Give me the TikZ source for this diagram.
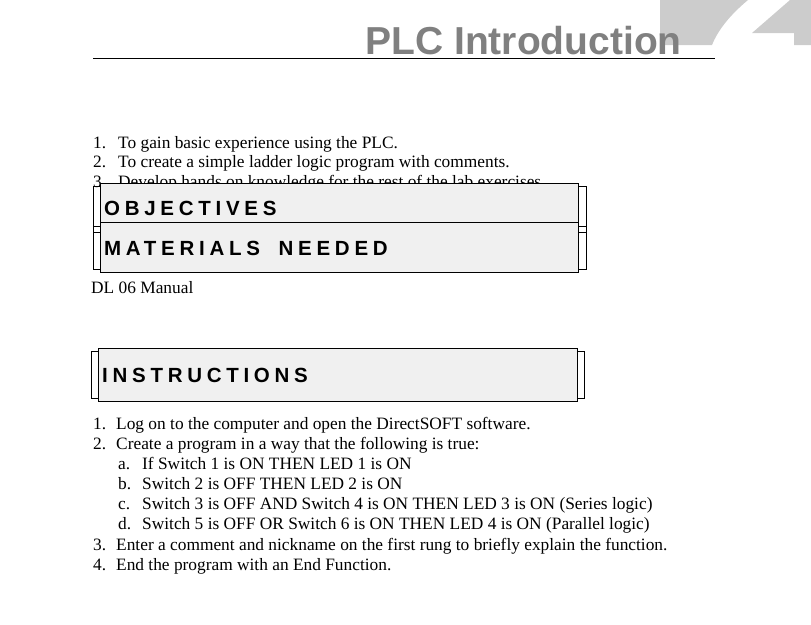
\documentclass[tikz,border=0pt]{standalone}
\usepackage{fontspec}
\setmainfont{Liberation Serif}
\newfontfamily\hsans[LetterSpace=23,WordSpace=1.8]{Liberation Sans Bold}
\newfontfamily\tsans{Liberation Sans Bold}
\definecolor{boxfill}{HTML}{F0F0F0}
\definecolor{titlegray}{HTML}{808080}
\definecolor{biggray}{HTML}{CCCCCC}
\begin{document}
\begin{tikzpicture}[x=1pt,y=-1pt,
  body/.style={anchor=base west,inner sep=0,font=\fontsize{17.35}{19}\selectfont},
  head/.style={anchor=base west,inner sep=0,font=\hsans\fontsize{20.5}{22}\selectfont},
  hbox/.style={draw=black,fill=boxfill,line width=0.8pt},
  frame/.style={draw=black,line width=0.5pt}]
\useasboundingbox (0,0) rectangle (811,624);
% big gray chapter number
\fill[biggray] (660,0) -- (748,0) .. controls (730,15) and (718,30) .. (712,45) -- (660,45) -- cycle;
\fill[biggray] (790,0) -- (811,0) -- (811,45) -- (794,45) -- (794,33) -- (752,33) -- cycle;
% title
\node[anchor=base east,inner sep=0,text=titlegray,font=\tsans\fontsize{39}{40}\selectfont] (title) at (682,54) {PLC Introduction};
\draw[line width=0.8pt] (93,58) -- (715,58);
% objectives list
\node[body] (o1n) at (93,148) {1.};
\node[body] (o1) at (118,148) {To gain basic experience using the PLC.};
\node[body] (o2n) at (93,167) {2.};
\node[body] (o2) at (118,167) {To create a simple ladder logic program with comments.};
\node[body] (o3n) at (93,187) {3.};
\node[body] (o3) at (118,187) {Develop hands on knowledge for the rest of the lab exercises.};
% objectives / materials boxes
\draw[frame] (93,186) rectangle (586,269);
\draw[frame] (93,226) -- (586,226);
\draw[frame] (93,232) -- (586,232);
\draw[hbox] (100,183) rectangle (578,222);
\draw[hbox] (100,222) rectangle (578,272);
\node[head] (obj) at (104,215) {OBJECTIVES};
\node[head] (mat) at (104,255) {MATERIALS NEEDED};
\node[body] (dl) at (91,293) {DL 06 Manual};
% instructions box
\draw[frame] (91,351) rectangle (584,398);
\draw[hbox] (98,348) rectangle (577,401);
\node[head] (ins) at (102,382) {INSTRUCTIONS};
% instructions list
\node[body] (i1n) at (93,429) {1.};
\node[body] (i1) at (116,429) {Log on to the computer and open the DirectSOFT software.};
\node[body] (i2n) at (93,449) {2.};
\node[body] (i2) at (116,449) {Create a program in a way that the following is true:};
\node[body] (ian) at (118,469) {a.};
\node[body] (ia) at (142,469) {If Switch 1 is ON THEN LED 1 is ON};
\node[body] (ibn) at (118,489) {b.};
\node[body] (ib) at (142,489) {Switch 2 is OFF THEN LED 2 is ON};
\node[body] (icn) at (118,509) {c.};
\node[body] (ic) at (142,509) {Switch 3 is OFF AND Switch 4 is ON THEN LED 3 is ON (Series logic)};
\node[body] (idn) at (118,529) {d.};
\node[body] (id) at (142,529) {Switch 5 is OFF OR Switch 6 is ON THEN LED 4 is ON (Parallel logic)};
\node[body] (i3n) at (93,550) {3.};
\node[body] (i3) at (116,550) {Enter a comment and nickname on the first rung to briefly explain the function.};
\node[body] (i4n) at (93,570) {4.};
\node[body] (i4) at (116,570) {End the program with an End Function.};
\end{tikzpicture}
\end{document}
